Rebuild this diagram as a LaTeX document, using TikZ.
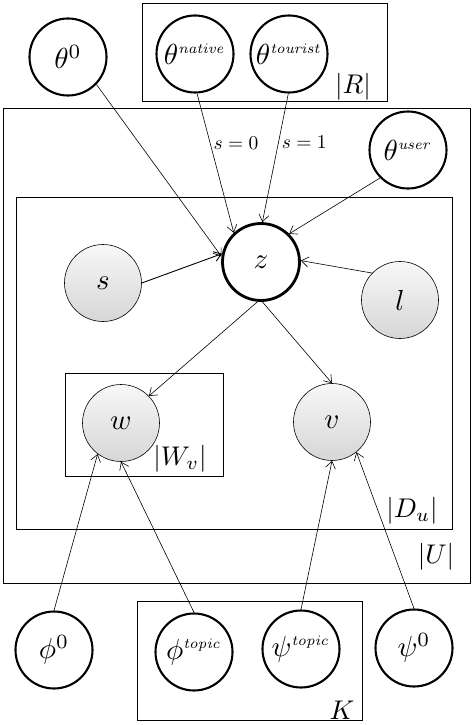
\documentclass[tikz,border=0pt]{standalone}
\usepackage{graphicx}
\usetikzlibrary{arrows.meta}
\newcommand{\ntxt}[1]{\scalebox{2.9}{$#1$}}
\newcommand{\ptxt}[1]{\scalebox{2.7}{$#1$}}
\newcommand{\etxt}[1]{\scalebox{1.95}{$#1$}}
\newcommand{\stxt}[1]{{\scriptscriptstyle\mathit{#1}}}
\begin{document}
\begin{tikzpicture}[x=1pt,y=-1pt,
  latent/.style={circle,draw,line width=2.1pt,minimum size=77pt,inner sep=0pt,fill=white},
  zvar/.style={latent,line width=2.8pt},
  obs/.style={circle,draw,line width=0.6pt,minimum size=77pt,inner sep=0pt,top color=gray!6,bottom color=gray!32},
  plate/.style={draw,line width=0.8pt},
  platelabel/.style={inner sep=0pt},
  edgelabel/.style={inner sep=0pt,anchor=west,xshift=3pt},
  arr/.style={-{Straight Barb[length=7pt,width=10pt]},line width=0.6pt}
]
\useasboundingbox (0,0) rectangle (474,725);
% plates
\draw[plate] (142,3) rectangle (387,101);
\draw[plate] (3,108) rectangle (470,583);
\draw[plate] (16,197) rectangle (452,529);
\draw[plate] (65,373) rectangle (223,476);
\draw[plate] (137,601) rectangle (362,720);
\node[platelabel] (lR) at (353,87) {\ptxt{|R|}};
\node[platelabel] (lW) at (180,459) {\ptxt{|W_v|}};
\node[platelabel] (lD) at (412,511) {\ptxt{|D_u|}};
\node[platelabel] (lU) at (436,557) {\ptxt{|U|}};
\node[platelabel] (lK) at (342,710) {\ptxt{K}};
% nodes
\node[latent] (t0) at (68,57) {\ntxt{\theta^0}};
\node[latent] (tn) at (195,54) {\ntxt{\theta^{\stxt{native}}}};
\node[latent] (tt) at (289,54) {\ntxt{\theta^{\stxt{tourist}}}};
\node[latent] (tu) at (408,150) {\ntxt{\theta^{\stxt{user}}}};
\node[zvar] (z) at (261,262) {\ntxt{z}};
\node[obs] (s) at (103,283) {\ntxt{s}};
\node[obs] (l) at (400,300) {\ntxt{l}};
\node[obs] (w) at (121,423) {\ntxt{w}};
\node[obs] (v) at (332,422) {\ntxt{v}};
\node[latent] (p0) at (54,650) {\ntxt{\phi^0}};
\node[latent] (pt) at (194,652) {\ntxt{\phi^{\stxt{topic}}}};
\node[latent] (qt) at (301,649) {\ntxt{\psi^{\stxt{topic}}}};
\node[latent] (q0) at (414,648) {\ntxt{\psi^0}};
% edges
\draw[arr] (t0.-44) -- (z.172);
\draw[arr] (tn.-87) -- node[edgelabel,pos=0.36] {\etxt{s=0}} (z.133);
\draw[arr] (tt.-91) -- node[edgelabel,pos=0.38] {\etxt{s=1}} (z.88);
\draw[arr] (tu.-135) -- (z.45);
\draw[arr,line width=0.9pt] (s.0) -- (z.168);
\draw[arr] (l.136) -- (z.2);
\draw[arr] (z.-95) -- (w.44);
\draw[arr] (z.-88) -- (v.90);
\draw[arr] (p0.90) -- (w.-127);
\draw[arr] (pt.90) -- (w.-90);
\draw[arr] (qt.90) -- (v.-90);
\draw[arr] (q0.90) -- (v.-51);
\end{tikzpicture}
\end{document}
